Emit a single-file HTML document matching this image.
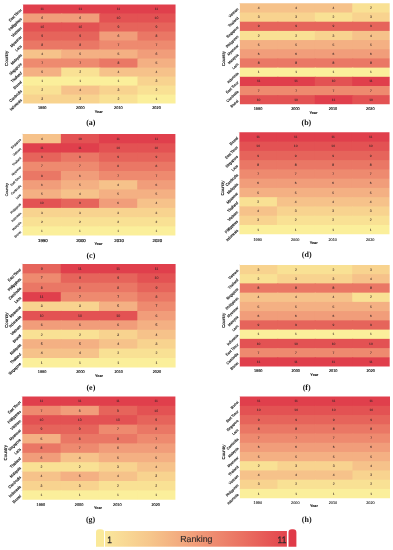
<!DOCTYPE html>
<html lang="en"><head><meta charset="utf-8"><title>Ranking heatmaps</title>
<style>
html,body{margin:0;padding:0;background:#fff;}
body{width:393px;height:550px;overflow:hidden;}
svg{display:block;}
text{font-family:"Liberation Sans","DejaVu Sans",sans-serif;text-rendering:geometricPrecision;}
.cap{font-family:"Liberation Serif","DejaVu Serif",serif;font-weight:bold;font-size:8px;fill:#111;text-anchor:middle;}
.yt{fill:#151515;text-anchor:end;stroke:#151515;}/*3.7*/
.xt{fill:#111;text-anchor:middle;stroke:#111;}
.ax{font-size:3.8px;fill:#111;text-anchor:middle;font-weight:bold;stroke:#111;stroke-width:0.08px;}
.cy{fill:#111;text-anchor:middle;stroke:#111;stroke-width:0.14px;}
.cv{/*3.7*/fill:#3a2828;text-anchor:middle;stroke:#3a2828;stroke-width:0.06px;}
.cb{font-size:8.8px;fill:#2e2a2a;}
.cbn{font-size:9.3px;stroke:#2e2a2a;stroke-width:0.25px;}
</style></head><body>
<svg width="393" height="550" viewBox="0 0 393 550">
<defs><linearGradient id="rk" x1="0" x2="1" y1="0" y2="0">
<stop offset="0" stop-color="#FAE79C"/><stop offset="0.25" stop-color="#F6C68B"/><stop offset="0.5" stop-color="#F19C79"/><stop offset="0.75" stop-color="#EA7262"/><stop offset="1" stop-color="#E3444D"/>
</linearGradient></defs>

<g id="panel-a">
<rect x="22.15" y="3.45" width="40.10" height="11.01" fill="#E03F4C"/>
<rect x="61.25" y="3.45" width="39.10" height="11.01" fill="#E03F4C"/>
<rect x="99.35" y="3.45" width="39.10" height="11.01" fill="#E03F4C"/>
<rect x="137.45" y="3.45" width="39.10" height="11.01" fill="#E03F4C"/>
<rect x="22.15" y="13.46" width="40.10" height="10.01" fill="#F19D7A"/>
<rect x="61.25" y="13.46" width="39.10" height="10.01" fill="#F19D7A"/>
<rect x="99.35" y="13.46" width="39.10" height="10.01" fill="#E35253"/>
<rect x="137.45" y="13.46" width="39.10" height="10.01" fill="#E35253"/>
<rect x="22.15" y="22.48" width="40.10" height="10.01" fill="#E35253"/>
<rect x="61.25" y="22.48" width="39.10" height="10.01" fill="#E35253"/>
<rect x="99.35" y="22.48" width="39.10" height="10.01" fill="#E6645B"/>
<rect x="137.45" y="22.48" width="39.10" height="10.01" fill="#E6645B"/>
<rect x="22.15" y="31.49" width="40.10" height="10.01" fill="#E6645B"/>
<rect x="61.25" y="31.49" width="39.10" height="10.01" fill="#E6645B"/>
<rect x="99.35" y="31.49" width="39.10" height="10.01" fill="#F19D7A"/>
<rect x="137.45" y="31.49" width="39.10" height="10.01" fill="#EA7765"/>
<rect x="22.15" y="40.50" width="40.10" height="10.01" fill="#EA7765"/>
<rect x="61.25" y="40.50" width="39.10" height="10.01" fill="#EA7765"/>
<rect x="99.35" y="40.50" width="39.10" height="10.01" fill="#EE8A6F"/>
<rect x="137.45" y="40.50" width="39.10" height="10.01" fill="#EE8A6F"/>
<rect x="22.15" y="49.52" width="40.10" height="10.01" fill="#F6C28A"/>
<rect x="61.25" y="49.52" width="39.10" height="10.01" fill="#F4B083"/>
<rect x="99.35" y="49.52" width="39.10" height="10.01" fill="#F4B083"/>
<rect x="137.45" y="49.52" width="39.10" height="10.01" fill="#F19D7A"/>
<rect x="22.15" y="58.53" width="40.10" height="10.01" fill="#EE8A6F"/>
<rect x="61.25" y="58.53" width="39.10" height="10.01" fill="#EE8A6F"/>
<rect x="99.35" y="58.53" width="39.10" height="10.01" fill="#EA7765"/>
<rect x="137.45" y="58.53" width="39.10" height="10.01" fill="#F4B083"/>
<rect x="22.15" y="67.55" width="40.10" height="10.01" fill="#F4B083"/>
<rect x="61.25" y="67.55" width="39.10" height="10.01" fill="#F9E194"/>
<rect x="99.35" y="67.55" width="39.10" height="10.01" fill="#F6C28A"/>
<rect x="137.45" y="67.55" width="39.10" height="10.01" fill="#F6C28A"/>
<rect x="22.15" y="76.56" width="40.10" height="10.01" fill="#FBEF9B"/>
<rect x="61.25" y="76.56" width="39.10" height="10.01" fill="#FBEF9B"/>
<rect x="99.35" y="76.56" width="39.10" height="10.01" fill="#FBEF9B"/>
<rect x="137.45" y="76.56" width="39.10" height="10.01" fill="#F8D38F"/>
<rect x="22.15" y="85.57" width="40.10" height="10.01" fill="#F9E194"/>
<rect x="61.25" y="85.57" width="39.10" height="10.01" fill="#F6C28A"/>
<rect x="99.35" y="85.57" width="39.10" height="10.01" fill="#F8D38F"/>
<rect x="137.45" y="85.57" width="39.10" height="10.01" fill="#F9E194"/>
<rect x="22.15" y="94.59" width="40.10" height="10.01" fill="#F8D38F"/>
<rect x="61.25" y="94.59" width="39.10" height="10.01" fill="#F8D38F"/>
<rect x="99.35" y="94.59" width="39.10" height="10.01" fill="#F9E194"/>
<rect x="137.45" y="94.59" width="39.10" height="10.01" fill="#FBEF9B"/>
<path fill="#fff" fill-rule="evenodd" d="M21.15 2.45H177.55V105.60H21.15Z M23.15 4.45H175.55V103.60H23.15Z"/>
<text class="cv" font-size="3.4" x="42.20" y="10.08">11</text>
<text class="cv" font-size="3.4" x="42.20" y="19.09">6</text>
<text class="cv" font-size="3.4" x="42.20" y="28.11">10</text>
<text class="cv" font-size="3.4" x="42.20" y="37.12">9</text>
<text class="cv" font-size="3.4" x="42.20" y="46.14">8</text>
<text class="cv" font-size="3.4" x="42.20" y="55.15">4</text>
<text class="cv" font-size="3.4" x="42.20" y="64.16">7</text>
<text class="cv" font-size="3.4" x="42.20" y="73.18">5</text>
<text class="cv" font-size="3.4" x="42.20" y="82.19">1</text>
<text class="cv" font-size="3.4" x="42.20" y="91.20">2</text>
<text class="cv" font-size="3.4" x="42.20" y="100.22">3</text>
<text class="cv" font-size="3.4" x="80.30" y="10.08">11</text>
<text class="cv" font-size="3.4" x="80.30" y="19.09">6</text>
<text class="cv" font-size="3.4" x="80.30" y="28.11">10</text>
<text class="cv" font-size="3.4" x="80.30" y="37.12">9</text>
<text class="cv" font-size="3.4" x="80.30" y="46.14">8</text>
<text class="cv" font-size="3.4" x="80.30" y="55.15">5</text>
<text class="cv" font-size="3.4" x="80.30" y="64.16">7</text>
<text class="cv" font-size="3.4" x="80.30" y="73.18">2</text>
<text class="cv" font-size="3.4" x="80.30" y="82.19">1</text>
<text class="cv" font-size="3.4" x="80.30" y="91.20">4</text>
<text class="cv" font-size="3.4" x="80.30" y="100.22">3</text>
<text class="cv" font-size="3.4" x="118.40" y="10.08">11</text>
<text class="cv" font-size="3.4" x="118.40" y="19.09">10</text>
<text class="cv" font-size="3.4" x="118.40" y="28.11">9</text>
<text class="cv" font-size="3.4" x="118.40" y="37.12">6</text>
<text class="cv" font-size="3.4" x="118.40" y="46.14">7</text>
<text class="cv" font-size="3.4" x="118.40" y="55.15">5</text>
<text class="cv" font-size="3.4" x="118.40" y="64.16">8</text>
<text class="cv" font-size="3.4" x="118.40" y="73.18">4</text>
<text class="cv" font-size="3.4" x="118.40" y="82.19">1</text>
<text class="cv" font-size="3.4" x="118.40" y="91.20">3</text>
<text class="cv" font-size="3.4" x="118.40" y="100.22">2</text>
<text class="cv" font-size="3.4" x="156.50" y="10.08">11</text>
<text class="cv" font-size="3.4" x="156.50" y="19.09">10</text>
<text class="cv" font-size="3.4" x="156.50" y="28.11">9</text>
<text class="cv" font-size="3.4" x="156.50" y="37.12">8</text>
<text class="cv" font-size="3.4" x="156.50" y="46.14">7</text>
<text class="cv" font-size="3.4" x="156.50" y="55.15">6</text>
<text class="cv" font-size="3.4" x="156.50" y="64.16">5</text>
<text class="cv" font-size="3.4" x="156.50" y="73.18">4</text>
<text class="cv" font-size="3.4" x="156.50" y="82.19">3</text>
<text class="cv" font-size="3.4" x="156.50" y="91.20">2</text>
<text class="cv" font-size="3.4" x="156.50" y="100.22">1</text>
<text class="yt" font-size="3.75" stroke-width="0.15" transform="translate(22.08,10.38) rotate(-44) scale(0.925,1)">East Timor</text>
<rect x="22.35" y="4.25" width="0.8" height="0.4" fill="#888" opacity="0.45"/>
<text class="yt" font-size="3.75" stroke-width="0.15" transform="translate(22.08,19.40) rotate(-44) scale(0.925,1)">Philippines</text>
<rect x="22.35" y="13.26" width="0.8" height="0.4" fill="#888" opacity="0.45"/>
<text class="yt" font-size="3.75" stroke-width="0.15" transform="translate(22.08,28.41) rotate(-44) scale(0.925,1)">Vietnam</text>
<rect x="22.35" y="22.28" width="0.8" height="0.4" fill="#888" opacity="0.45"/>
<text class="yt" font-size="3.75" stroke-width="0.15" transform="translate(22.08,37.42) rotate(-44) scale(0.925,1)">Myanmar</text>
<rect x="22.35" y="31.29" width="0.8" height="0.4" fill="#888" opacity="0.45"/>
<text class="yt" font-size="3.75" stroke-width="0.15" transform="translate(22.08,46.44) rotate(-44) scale(0.925,1)">Laos</text>
<rect x="22.35" y="40.30" width="0.8" height="0.4" fill="#888" opacity="0.45"/>
<text class="yt" font-size="3.75" stroke-width="0.15" transform="translate(22.08,55.45) rotate(-44) scale(0.925,1)">Malaysia</text>
<rect x="22.35" y="49.32" width="0.8" height="0.4" fill="#888" opacity="0.45"/>
<text class="yt" font-size="3.75" stroke-width="0.15" transform="translate(22.08,64.46) rotate(-44) scale(0.925,1)">Singapore</text>
<rect x="22.35" y="58.33" width="0.8" height="0.4" fill="#888" opacity="0.45"/>
<text class="yt" font-size="3.75" stroke-width="0.15" transform="translate(22.08,73.48) rotate(-44) scale(0.925,1)">Thailand</text>
<rect x="22.35" y="67.35" width="0.8" height="0.4" fill="#888" opacity="0.45"/>
<text class="yt" font-size="3.75" stroke-width="0.15" transform="translate(22.08,82.49) rotate(-44) scale(0.925,1)">Brunei</text>
<rect x="22.35" y="76.36" width="0.8" height="0.4" fill="#888" opacity="0.45"/>
<text class="yt" font-size="3.75" stroke-width="0.15" transform="translate(22.08,91.51) rotate(-44) scale(0.925,1)">Cambodia</text>
<rect x="22.35" y="85.37" width="0.8" height="0.4" fill="#888" opacity="0.45"/>
<text class="yt" font-size="3.75" stroke-width="0.15" transform="translate(22.08,100.52) rotate(-44) scale(0.925,1)">Indonesia</text>
<rect x="22.35" y="94.39" width="0.8" height="0.4" fill="#888" opacity="0.45"/>
<text class="xt" font-size="3.85" stroke-width="0.14" x="42.20" y="108.94">1990</text>
<text class="xt" font-size="3.85" stroke-width="0.14" x="80.30" y="108.94">2000</text>
<text class="xt" font-size="3.85" stroke-width="0.14" x="118.40" y="108.94">2010</text>
<text class="xt" font-size="3.85" stroke-width="0.14" x="156.50" y="108.94">2020</text>
<text class="ax" x="98.75" y="112.50">Year</text>
<text class="cy" font-size="4.35" transform="translate(8.10,58.40) rotate(-90)">Country</text>
<text class="cap" x="90.8" y="125.40">(a)</text>
</g>
<g id="panel-b">
<rect x="238.90" y="2.35" width="39.45" height="11.18" fill="#F6C28A"/>
<rect x="277.35" y="2.35" width="38.45" height="11.18" fill="#F6C28A"/>
<rect x="314.80" y="2.35" width="38.45" height="11.18" fill="#F6C28A"/>
<rect x="352.25" y="2.35" width="38.45" height="11.18" fill="#F9E194"/>
<rect x="238.90" y="12.53" width="39.45" height="10.18" fill="#F8D38F"/>
<rect x="277.35" y="12.53" width="38.45" height="10.18" fill="#F8D38F"/>
<rect x="314.80" y="12.53" width="38.45" height="10.18" fill="#F9E194"/>
<rect x="352.25" y="12.53" width="38.45" height="10.18" fill="#F8D38F"/>
<rect x="238.90" y="21.71" width="39.45" height="10.18" fill="#E6645B"/>
<rect x="277.35" y="21.71" width="38.45" height="10.18" fill="#E6645B"/>
<rect x="314.80" y="21.71" width="38.45" height="10.18" fill="#E6645B"/>
<rect x="352.25" y="21.71" width="38.45" height="10.18" fill="#E6645B"/>
<rect x="238.90" y="30.90" width="39.45" height="10.18" fill="#F9E194"/>
<rect x="277.35" y="30.90" width="38.45" height="10.18" fill="#F9E194"/>
<rect x="314.80" y="30.90" width="38.45" height="10.18" fill="#F8D38F"/>
<rect x="352.25" y="30.90" width="38.45" height="10.18" fill="#F6C28A"/>
<rect x="238.90" y="40.08" width="39.45" height="10.18" fill="#F4B083"/>
<rect x="277.35" y="40.08" width="38.45" height="10.18" fill="#F4B083"/>
<rect x="314.80" y="40.08" width="38.45" height="10.18" fill="#F4B083"/>
<rect x="352.25" y="40.08" width="38.45" height="10.18" fill="#F4B083"/>
<rect x="238.90" y="49.26" width="39.45" height="10.18" fill="#F19D7A"/>
<rect x="277.35" y="49.26" width="38.45" height="10.18" fill="#F19D7A"/>
<rect x="314.80" y="49.26" width="38.45" height="10.18" fill="#F19D7A"/>
<rect x="352.25" y="49.26" width="38.45" height="10.18" fill="#F19D7A"/>
<rect x="238.90" y="58.44" width="39.45" height="10.18" fill="#EA7765"/>
<rect x="277.35" y="58.44" width="38.45" height="10.18" fill="#EA7765"/>
<rect x="314.80" y="58.44" width="38.45" height="10.18" fill="#EA7765"/>
<rect x="352.25" y="58.44" width="38.45" height="10.18" fill="#EA7765"/>
<rect x="238.90" y="67.62" width="39.45" height="10.18" fill="#FBEF9B"/>
<rect x="277.35" y="67.62" width="38.45" height="10.18" fill="#FBEF9B"/>
<rect x="314.80" y="67.62" width="38.45" height="10.18" fill="#FBEF9B"/>
<rect x="352.25" y="67.62" width="38.45" height="10.18" fill="#FBEF9B"/>
<rect x="238.90" y="76.80" width="39.45" height="10.18" fill="#E03F4C"/>
<rect x="277.35" y="76.80" width="38.45" height="10.18" fill="#E03F4C"/>
<rect x="314.80" y="76.80" width="38.45" height="10.18" fill="#E35253"/>
<rect x="352.25" y="76.80" width="38.45" height="10.18" fill="#E03F4C"/>
<rect x="238.90" y="85.99" width="39.45" height="10.18" fill="#EE8A6F"/>
<rect x="277.35" y="85.99" width="38.45" height="10.18" fill="#EE8A6F"/>
<rect x="314.80" y="85.99" width="38.45" height="10.18" fill="#EE8A6F"/>
<rect x="352.25" y="85.99" width="38.45" height="10.18" fill="#EE8A6F"/>
<rect x="238.90" y="95.17" width="39.45" height="10.18" fill="#E35253"/>
<rect x="277.35" y="95.17" width="38.45" height="10.18" fill="#E35253"/>
<rect x="314.80" y="95.17" width="38.45" height="10.18" fill="#E03F4C"/>
<rect x="352.25" y="95.17" width="38.45" height="10.18" fill="#E35253"/>
<path fill="#fff" fill-rule="evenodd" d="M237.90 1.35H391.70V106.35H237.90Z M239.90 3.35H389.70V104.35H239.90Z"/>
<text class="cv" font-size="3.3" x="258.62" y="9.03">4</text>
<text class="cv" font-size="3.3" x="258.62" y="18.21">3</text>
<text class="cv" font-size="3.3" x="258.62" y="27.39">9</text>
<text class="cv" font-size="3.3" x="258.62" y="36.57">2</text>
<text class="cv" font-size="3.3" x="258.62" y="45.76">5</text>
<text class="cv" font-size="3.3" x="258.62" y="54.94">6</text>
<text class="cv" font-size="3.3" x="258.62" y="64.12">8</text>
<text class="cv" font-size="3.3" x="258.62" y="73.30">1</text>
<text class="cv" font-size="3.3" x="258.62" y="82.48">11</text>
<text class="cv" font-size="3.3" x="258.62" y="91.67">7</text>
<text class="cv" font-size="3.3" x="258.62" y="100.85">10</text>
<text class="cv" font-size="3.3" x="296.07" y="9.03">4</text>
<text class="cv" font-size="3.3" x="296.07" y="18.21">3</text>
<text class="cv" font-size="3.3" x="296.07" y="27.39">9</text>
<text class="cv" font-size="3.3" x="296.07" y="36.57">2</text>
<text class="cv" font-size="3.3" x="296.07" y="45.76">5</text>
<text class="cv" font-size="3.3" x="296.07" y="54.94">6</text>
<text class="cv" font-size="3.3" x="296.07" y="64.12">8</text>
<text class="cv" font-size="3.3" x="296.07" y="73.30">1</text>
<text class="cv" font-size="3.3" x="296.07" y="82.48">11</text>
<text class="cv" font-size="3.3" x="296.07" y="91.67">7</text>
<text class="cv" font-size="3.3" x="296.07" y="100.85">10</text>
<text class="cv" font-size="3.3" x="333.52" y="9.03">4</text>
<text class="cv" font-size="3.3" x="333.52" y="18.21">2</text>
<text class="cv" font-size="3.3" x="333.52" y="27.39">9</text>
<text class="cv" font-size="3.3" x="333.52" y="36.57">3</text>
<text class="cv" font-size="3.3" x="333.52" y="45.76">5</text>
<text class="cv" font-size="3.3" x="333.52" y="54.94">6</text>
<text class="cv" font-size="3.3" x="333.52" y="64.12">8</text>
<text class="cv" font-size="3.3" x="333.52" y="73.30">1</text>
<text class="cv" font-size="3.3" x="333.52" y="82.48">10</text>
<text class="cv" font-size="3.3" x="333.52" y="91.67">7</text>
<text class="cv" font-size="3.3" x="333.52" y="100.85">11</text>
<text class="cv" font-size="3.3" x="370.98" y="9.03">2</text>
<text class="cv" font-size="3.3" x="370.98" y="18.21">3</text>
<text class="cv" font-size="3.3" x="370.98" y="27.39">9</text>
<text class="cv" font-size="3.3" x="370.98" y="36.57">4</text>
<text class="cv" font-size="3.3" x="370.98" y="45.76">5</text>
<text class="cv" font-size="3.3" x="370.98" y="54.94">6</text>
<text class="cv" font-size="3.3" x="370.98" y="64.12">8</text>
<text class="cv" font-size="3.3" x="370.98" y="73.30">1</text>
<text class="cv" font-size="3.3" x="370.98" y="82.48">11</text>
<text class="cv" font-size="3.3" x="370.98" y="91.67">7</text>
<text class="cv" font-size="3.3" x="370.98" y="100.85">10</text>
<text class="yt" font-size="3.6" stroke-width="0.15" transform="translate(238.77,9.31) rotate(-44) scale(0.925,1)">Vietnam</text>
<rect x="239.10" y="3.15" width="0.8" height="0.4" fill="#888" opacity="0.45"/>
<text class="yt" font-size="3.6" stroke-width="0.15" transform="translate(238.77,18.50) rotate(-44) scale(0.925,1)">Thailand</text>
<rect x="239.10" y="12.33" width="0.8" height="0.4" fill="#888" opacity="0.45"/>
<text class="yt" font-size="3.6" stroke-width="0.15" transform="translate(238.77,27.68) rotate(-44) scale(0.925,1)">Singapore</text>
<rect x="239.10" y="21.51" width="0.8" height="0.4" fill="#888" opacity="0.45"/>
<text class="yt" font-size="3.6" stroke-width="0.15" transform="translate(238.77,36.86) rotate(-44) scale(0.925,1)">Philippines</text>
<rect x="239.10" y="30.70" width="0.8" height="0.4" fill="#888" opacity="0.45"/>
<text class="yt" font-size="3.6" stroke-width="0.15" transform="translate(238.77,46.04) rotate(-44) scale(0.925,1)">Myanmar</text>
<rect x="239.10" y="39.88" width="0.8" height="0.4" fill="#888" opacity="0.45"/>
<text class="yt" font-size="3.6" stroke-width="0.15" transform="translate(238.77,55.22) rotate(-44) scale(0.925,1)">Malaysia</text>
<rect x="239.10" y="49.06" width="0.8" height="0.4" fill="#888" opacity="0.45"/>
<text class="yt" font-size="3.6" stroke-width="0.15" transform="translate(238.77,64.40) rotate(-44) scale(0.925,1)">Laos</text>
<rect x="239.10" y="58.24" width="0.8" height="0.4" fill="#888" opacity="0.45"/>
<text class="yt" font-size="3.6" stroke-width="0.15" transform="translate(238.77,73.59) rotate(-44) scale(0.925,1)">Indonesia</text>
<rect x="239.10" y="67.42" width="0.8" height="0.4" fill="#888" opacity="0.45"/>
<text class="yt" font-size="3.6" stroke-width="0.15" transform="translate(238.77,82.77) rotate(-44) scale(0.925,1)">East Timor</text>
<rect x="239.10" y="76.60" width="0.8" height="0.4" fill="#888" opacity="0.45"/>
<text class="yt" font-size="3.6" stroke-width="0.15" transform="translate(238.77,91.95) rotate(-44) scale(0.925,1)">Cambodia</text>
<rect x="239.10" y="85.79" width="0.8" height="0.4" fill="#888" opacity="0.45"/>
<text class="yt" font-size="3.6" stroke-width="0.15" transform="translate(238.77,101.13) rotate(-44) scale(0.925,1)">Brunei</text>
<rect x="239.10" y="94.97" width="0.8" height="0.4" fill="#888" opacity="0.45"/>
<text class="xt" font-size="3.85" stroke-width="0.14" x="258.02" y="109.74">1990</text>
<text class="xt" font-size="3.85" stroke-width="0.14" x="295.47" y="109.74">2000</text>
<text class="xt" font-size="3.85" stroke-width="0.14" x="332.92" y="109.74">2010</text>
<text class="xt" font-size="3.85" stroke-width="0.14" x="370.38" y="109.74">2020</text>
<text class="ax" x="313.40" y="113.90">Year</text>
<text class="cy" font-size="4.25" transform="translate(225.40,58.50) rotate(-90)">Country</text>
<text class="cap" x="306.4" y="125.20">(b)</text>
</g>
<g id="panel-c">
<rect x="21.70" y="133.05" width="40.18" height="11.23" fill="#F6C28A"/>
<rect x="60.88" y="133.05" width="39.18" height="11.23" fill="#E35253"/>
<rect x="99.05" y="133.05" width="39.18" height="11.23" fill="#E03F4C"/>
<rect x="137.22" y="133.05" width="39.18" height="11.23" fill="#E03F4C"/>
<rect x="21.70" y="143.28" width="40.18" height="10.23" fill="#E03F4C"/>
<rect x="60.88" y="143.28" width="39.18" height="10.23" fill="#E03F4C"/>
<rect x="99.05" y="143.28" width="39.18" height="10.23" fill="#E35253"/>
<rect x="137.22" y="143.28" width="39.18" height="10.23" fill="#E35253"/>
<rect x="21.70" y="152.51" width="40.18" height="10.23" fill="#E6645B"/>
<rect x="60.88" y="152.51" width="39.18" height="10.23" fill="#EA7765"/>
<rect x="99.05" y="152.51" width="39.18" height="10.23" fill="#E6645B"/>
<rect x="137.22" y="152.51" width="39.18" height="10.23" fill="#E6645B"/>
<rect x="21.70" y="161.75" width="40.18" height="10.23" fill="#EE8A6F"/>
<rect x="60.88" y="161.75" width="39.18" height="10.23" fill="#EE8A6F"/>
<rect x="99.05" y="161.75" width="39.18" height="10.23" fill="#EA7765"/>
<rect x="137.22" y="161.75" width="39.18" height="10.23" fill="#EA7765"/>
<rect x="21.70" y="170.98" width="40.18" height="10.23" fill="#EA7765"/>
<rect x="60.88" y="170.98" width="39.18" height="10.23" fill="#F19D7A"/>
<rect x="99.05" y="170.98" width="39.18" height="10.23" fill="#EE8A6F"/>
<rect x="137.22" y="170.98" width="39.18" height="10.23" fill="#EE8A6F"/>
<rect x="21.70" y="180.21" width="40.18" height="10.23" fill="#F19D7A"/>
<rect x="60.88" y="180.21" width="39.18" height="10.23" fill="#F4B083"/>
<rect x="99.05" y="180.21" width="39.18" height="10.23" fill="#F6C28A"/>
<rect x="137.22" y="180.21" width="39.18" height="10.23" fill="#F19D7A"/>
<rect x="21.70" y="189.44" width="40.18" height="10.23" fill="#F4B083"/>
<rect x="60.88" y="189.44" width="39.18" height="10.23" fill="#F6C28A"/>
<rect x="99.05" y="189.44" width="39.18" height="10.23" fill="#F4B083"/>
<rect x="137.22" y="189.44" width="39.18" height="10.23" fill="#F4B083"/>
<rect x="21.70" y="198.67" width="40.18" height="10.23" fill="#E35253"/>
<rect x="60.88" y="198.67" width="39.18" height="10.23" fill="#E6645B"/>
<rect x="99.05" y="198.67" width="39.18" height="10.23" fill="#F19D7A"/>
<rect x="137.22" y="198.67" width="39.18" height="10.23" fill="#F6C28A"/>
<rect x="21.70" y="207.90" width="40.18" height="10.23" fill="#F8D38F"/>
<rect x="60.88" y="207.90" width="39.18" height="10.23" fill="#F8D38F"/>
<rect x="99.05" y="207.90" width="39.18" height="10.23" fill="#F8D38F"/>
<rect x="137.22" y="207.90" width="39.18" height="10.23" fill="#F8D38F"/>
<rect x="21.70" y="217.14" width="40.18" height="10.23" fill="#F9E194"/>
<rect x="60.88" y="217.14" width="39.18" height="10.23" fill="#F9E194"/>
<rect x="99.05" y="217.14" width="39.18" height="10.23" fill="#F9E194"/>
<rect x="137.22" y="217.14" width="39.18" height="10.23" fill="#F9E194"/>
<rect x="21.70" y="226.37" width="40.18" height="10.23" fill="#FBEF9B"/>
<rect x="60.88" y="226.37" width="39.18" height="10.23" fill="#FBEF9B"/>
<rect x="99.05" y="226.37" width="39.18" height="10.23" fill="#FBEF9B"/>
<rect x="137.22" y="226.37" width="39.18" height="10.23" fill="#FBEF9B"/>
<path fill="#fff" fill-rule="evenodd" d="M20.70 132.05H177.40V237.60H20.70Z M22.70 134.05H175.40V235.60H22.70Z"/>
<text class="cv" font-size="3.2" x="41.79" y="139.72">4</text>
<text class="cv" font-size="3.2" x="41.79" y="148.95">11</text>
<text class="cv" font-size="3.2" x="41.79" y="158.18">9</text>
<text class="cv" font-size="3.2" x="41.79" y="167.41">7</text>
<text class="cv" font-size="3.2" x="41.79" y="176.65">8</text>
<text class="cv" font-size="3.2" x="41.79" y="185.88">6</text>
<text class="cv" font-size="3.2" x="41.79" y="195.11">5</text>
<text class="cv" font-size="3.2" x="41.79" y="204.34">10</text>
<text class="cv" font-size="3.2" x="41.79" y="213.57">3</text>
<text class="cv" font-size="3.2" x="41.79" y="222.80">2</text>
<text class="cv" font-size="3.2" x="41.79" y="232.04">1</text>
<text class="cv" font-size="3.2" x="79.96" y="139.72">10</text>
<text class="cv" font-size="3.2" x="79.96" y="148.95">11</text>
<text class="cv" font-size="3.2" x="79.96" y="158.18">8</text>
<text class="cv" font-size="3.2" x="79.96" y="167.41">7</text>
<text class="cv" font-size="3.2" x="79.96" y="176.65">6</text>
<text class="cv" font-size="3.2" x="79.96" y="185.88">5</text>
<text class="cv" font-size="3.2" x="79.96" y="195.11">4</text>
<text class="cv" font-size="3.2" x="79.96" y="204.34">9</text>
<text class="cv" font-size="3.2" x="79.96" y="213.57">3</text>
<text class="cv" font-size="3.2" x="79.96" y="222.80">2</text>
<text class="cv" font-size="3.2" x="79.96" y="232.04">1</text>
<text class="cv" font-size="3.2" x="118.14" y="139.72">11</text>
<text class="cv" font-size="3.2" x="118.14" y="148.95">10</text>
<text class="cv" font-size="3.2" x="118.14" y="158.18">9</text>
<text class="cv" font-size="3.2" x="118.14" y="167.41">8</text>
<text class="cv" font-size="3.2" x="118.14" y="176.65">7</text>
<text class="cv" font-size="3.2" x="118.14" y="185.88">4</text>
<text class="cv" font-size="3.2" x="118.14" y="195.11">5</text>
<text class="cv" font-size="3.2" x="118.14" y="204.34">6</text>
<text class="cv" font-size="3.2" x="118.14" y="213.57">3</text>
<text class="cv" font-size="3.2" x="118.14" y="222.80">2</text>
<text class="cv" font-size="3.2" x="118.14" y="232.04">1</text>
<text class="cv" font-size="3.2" x="156.31" y="139.72">11</text>
<text class="cv" font-size="3.2" x="156.31" y="148.95">10</text>
<text class="cv" font-size="3.2" x="156.31" y="158.18">9</text>
<text class="cv" font-size="3.2" x="156.31" y="167.41">8</text>
<text class="cv" font-size="3.2" x="156.31" y="176.65">7</text>
<text class="cv" font-size="3.2" x="156.31" y="185.88">6</text>
<text class="cv" font-size="3.2" x="156.31" y="195.11">5</text>
<text class="cv" font-size="3.2" x="156.31" y="204.34">4</text>
<text class="cv" font-size="3.2" x="156.31" y="213.57">3</text>
<text class="cv" font-size="3.2" x="156.31" y="222.80">2</text>
<text class="cv" font-size="3.2" x="156.31" y="232.04">1</text>
<text class="yt" font-size="3.1" stroke-width="0.1" transform="translate(21.40,139.86) rotate(-44) scale(0.925,1)">Singapore</text>
<rect x="21.90" y="133.85" width="0.8" height="0.4" fill="#888" opacity="0.45"/>
<text class="yt" font-size="3.1" stroke-width="0.1" transform="translate(21.40,149.09) rotate(-44) scale(0.925,1)">Vietnam</text>
<rect x="21.90" y="143.08" width="0.8" height="0.4" fill="#888" opacity="0.45"/>
<text class="yt" font-size="3.1" stroke-width="0.1" transform="translate(21.40,158.33) rotate(-44) scale(0.925,1)">Thailand</text>
<rect x="21.90" y="152.31" width="0.8" height="0.4" fill="#888" opacity="0.45"/>
<text class="yt" font-size="3.1" stroke-width="0.1" transform="translate(21.40,167.56) rotate(-44) scale(0.925,1)">Myanmar</text>
<rect x="21.90" y="161.55" width="0.8" height="0.4" fill="#888" opacity="0.45"/>
<text class="yt" font-size="3.1" stroke-width="0.1" transform="translate(21.40,176.79) rotate(-44) scale(0.925,1)">East Timor</text>
<rect x="21.90" y="170.78" width="0.8" height="0.4" fill="#888" opacity="0.45"/>
<text class="yt" font-size="3.1" stroke-width="0.1" transform="translate(21.40,186.02) rotate(-44) scale(0.925,1)">Cambodia</text>
<rect x="21.90" y="180.01" width="0.8" height="0.4" fill="#888" opacity="0.45"/>
<text class="yt" font-size="3.1" stroke-width="0.1" transform="translate(21.40,195.25) rotate(-44) scale(0.925,1)">Laos</text>
<rect x="21.90" y="189.24" width="0.8" height="0.4" fill="#888" opacity="0.45"/>
<text class="yt" font-size="3.1" stroke-width="0.1" transform="translate(21.40,204.48) rotate(-44) scale(0.925,1)">Philippines</text>
<rect x="21.90" y="198.47" width="0.8" height="0.4" fill="#888" opacity="0.45"/>
<text class="yt" font-size="3.1" stroke-width="0.1" transform="translate(21.40,213.72) rotate(-44) scale(0.925,1)">Indonesia</text>
<rect x="21.90" y="207.70" width="0.8" height="0.4" fill="#888" opacity="0.45"/>
<text class="yt" font-size="3.1" stroke-width="0.1" transform="translate(21.40,222.95) rotate(-44) scale(0.925,1)">Malaysia</text>
<rect x="21.90" y="216.94" width="0.8" height="0.4" fill="#888" opacity="0.45"/>
<text class="yt" font-size="3.1" stroke-width="0.1" transform="translate(21.40,232.18) rotate(-44) scale(0.925,1)">Brunei</text>
<rect x="21.90" y="226.17" width="0.8" height="0.4" fill="#888" opacity="0.45"/>
<text class="xt" font-size="4.3" stroke-width="0.18" x="42.79" y="241.75">1990</text>
<text class="xt" font-size="4.3" stroke-width="0.18" x="80.96" y="241.75">2000</text>
<text class="xt" font-size="4.3" stroke-width="0.18" x="119.14" y="241.75">2010</text>
<text class="xt" font-size="4.3" stroke-width="0.18" x="157.31" y="241.75">2020</text>
<text class="ax" x="98.45" y="244.95">Year</text>
<text class="cy" font-size="3.75" transform="translate(8.10,189.70) rotate(-90)">Country</text>
<text class="cap" x="90.9" y="257.60">(c)</text>
</g>
<g id="panel-d">
<rect x="238.40" y="131.35" width="39.52" height="11.26" fill="#E03F4C"/>
<rect x="276.93" y="131.35" width="38.52" height="11.26" fill="#E03F4C"/>
<rect x="314.45" y="131.35" width="38.52" height="11.26" fill="#E03F4C"/>
<rect x="351.98" y="131.35" width="38.52" height="11.26" fill="#E03F4C"/>
<rect x="238.40" y="141.61" width="39.52" height="10.26" fill="#E35253"/>
<rect x="276.93" y="141.61" width="38.52" height="10.26" fill="#E35253"/>
<rect x="314.45" y="141.61" width="38.52" height="10.26" fill="#E35253"/>
<rect x="351.98" y="141.61" width="38.52" height="10.26" fill="#E35253"/>
<rect x="238.40" y="150.87" width="39.52" height="10.26" fill="#E6645B"/>
<rect x="276.93" y="150.87" width="38.52" height="10.26" fill="#E6645B"/>
<rect x="314.45" y="150.87" width="38.52" height="10.26" fill="#E6645B"/>
<rect x="351.98" y="150.87" width="38.52" height="10.26" fill="#E6645B"/>
<rect x="238.40" y="160.13" width="39.52" height="10.26" fill="#EA7765"/>
<rect x="276.93" y="160.13" width="38.52" height="10.26" fill="#EA7765"/>
<rect x="314.45" y="160.13" width="38.52" height="10.26" fill="#EA7765"/>
<rect x="351.98" y="160.13" width="38.52" height="10.26" fill="#EA7765"/>
<rect x="238.40" y="169.39" width="39.52" height="10.26" fill="#EE8A6F"/>
<rect x="276.93" y="169.39" width="38.52" height="10.26" fill="#EE8A6F"/>
<rect x="314.45" y="169.39" width="38.52" height="10.26" fill="#EE8A6F"/>
<rect x="351.98" y="169.39" width="38.52" height="10.26" fill="#EE8A6F"/>
<rect x="238.40" y="178.65" width="39.52" height="10.26" fill="#F19D7A"/>
<rect x="276.93" y="178.65" width="38.52" height="10.26" fill="#F19D7A"/>
<rect x="314.45" y="178.65" width="38.52" height="10.26" fill="#F19D7A"/>
<rect x="351.98" y="178.65" width="38.52" height="10.26" fill="#F19D7A"/>
<rect x="238.40" y="187.90" width="39.52" height="10.26" fill="#F4B083"/>
<rect x="276.93" y="187.90" width="38.52" height="10.26" fill="#F4B083"/>
<rect x="314.45" y="187.90" width="38.52" height="10.26" fill="#F4B083"/>
<rect x="351.98" y="187.90" width="38.52" height="10.26" fill="#F4B083"/>
<rect x="238.40" y="197.16" width="39.52" height="10.26" fill="#F9E194"/>
<rect x="276.93" y="197.16" width="38.52" height="10.26" fill="#F6C28A"/>
<rect x="314.45" y="197.16" width="38.52" height="10.26" fill="#F6C28A"/>
<rect x="351.98" y="197.16" width="38.52" height="10.26" fill="#F6C28A"/>
<rect x="238.40" y="206.42" width="39.52" height="10.26" fill="#F6C28A"/>
<rect x="276.93" y="206.42" width="38.52" height="10.26" fill="#F8D38F"/>
<rect x="314.45" y="206.42" width="38.52" height="10.26" fill="#F8D38F"/>
<rect x="351.98" y="206.42" width="38.52" height="10.26" fill="#F8D38F"/>
<rect x="238.40" y="215.68" width="39.52" height="10.26" fill="#F8D38F"/>
<rect x="276.93" y="215.68" width="38.52" height="10.26" fill="#F9E194"/>
<rect x="314.45" y="215.68" width="38.52" height="10.26" fill="#F9E194"/>
<rect x="351.98" y="215.68" width="38.52" height="10.26" fill="#F9E194"/>
<rect x="238.40" y="224.94" width="39.52" height="10.26" fill="#FBEF9B"/>
<rect x="276.93" y="224.94" width="38.52" height="10.26" fill="#FBEF9B"/>
<rect x="314.45" y="224.94" width="38.52" height="10.26" fill="#FBEF9B"/>
<rect x="351.98" y="224.94" width="38.52" height="10.26" fill="#FBEF9B"/>
<path fill="#fff" fill-rule="evenodd" d="M237.40 130.35H391.50V236.20H237.40Z M239.40 132.35H389.50V234.20H239.40Z"/>
<text class="cv" font-size="3.3" x="258.16" y="138.07">11</text>
<text class="cv" font-size="3.3" x="258.16" y="147.33">10</text>
<text class="cv" font-size="3.3" x="258.16" y="156.59">9</text>
<text class="cv" font-size="3.3" x="258.16" y="165.84">8</text>
<text class="cv" font-size="3.3" x="258.16" y="175.10">7</text>
<text class="cv" font-size="3.3" x="258.16" y="184.36">6</text>
<text class="cv" font-size="3.3" x="258.16" y="193.62">5</text>
<text class="cv" font-size="3.3" x="258.16" y="202.88">2</text>
<text class="cv" font-size="3.3" x="258.16" y="212.14">4</text>
<text class="cv" font-size="3.3" x="258.16" y="221.40">3</text>
<text class="cv" font-size="3.3" x="258.16" y="230.66">1</text>
<text class="cv" font-size="3.3" x="295.69" y="138.07">11</text>
<text class="cv" font-size="3.3" x="295.69" y="147.33">10</text>
<text class="cv" font-size="3.3" x="295.69" y="156.59">9</text>
<text class="cv" font-size="3.3" x="295.69" y="165.84">8</text>
<text class="cv" font-size="3.3" x="295.69" y="175.10">7</text>
<text class="cv" font-size="3.3" x="295.69" y="184.36">6</text>
<text class="cv" font-size="3.3" x="295.69" y="193.62">5</text>
<text class="cv" font-size="3.3" x="295.69" y="202.88">4</text>
<text class="cv" font-size="3.3" x="295.69" y="212.14">3</text>
<text class="cv" font-size="3.3" x="295.69" y="221.40">2</text>
<text class="cv" font-size="3.3" x="295.69" y="230.66">1</text>
<text class="cv" font-size="3.3" x="333.21" y="138.07">11</text>
<text class="cv" font-size="3.3" x="333.21" y="147.33">10</text>
<text class="cv" font-size="3.3" x="333.21" y="156.59">9</text>
<text class="cv" font-size="3.3" x="333.21" y="165.84">8</text>
<text class="cv" font-size="3.3" x="333.21" y="175.10">7</text>
<text class="cv" font-size="3.3" x="333.21" y="184.36">6</text>
<text class="cv" font-size="3.3" x="333.21" y="193.62">5</text>
<text class="cv" font-size="3.3" x="333.21" y="202.88">4</text>
<text class="cv" font-size="3.3" x="333.21" y="212.14">3</text>
<text class="cv" font-size="3.3" x="333.21" y="221.40">2</text>
<text class="cv" font-size="3.3" x="333.21" y="230.66">1</text>
<text class="cv" font-size="3.3" x="370.74" y="138.07">11</text>
<text class="cv" font-size="3.3" x="370.74" y="147.33">10</text>
<text class="cv" font-size="3.3" x="370.74" y="156.59">9</text>
<text class="cv" font-size="3.3" x="370.74" y="165.84">8</text>
<text class="cv" font-size="3.3" x="370.74" y="175.10">7</text>
<text class="cv" font-size="3.3" x="370.74" y="184.36">6</text>
<text class="cv" font-size="3.3" x="370.74" y="193.62">5</text>
<text class="cv" font-size="3.3" x="370.74" y="202.88">4</text>
<text class="cv" font-size="3.3" x="370.74" y="212.14">3</text>
<text class="cv" font-size="3.3" x="370.74" y="221.40">2</text>
<text class="cv" font-size="3.3" x="370.74" y="230.66">1</text>
<text class="yt" font-size="3.75" stroke-width="0.15" transform="translate(238.33,138.41) rotate(-44) scale(0.925,1)">Brunei</text>
<rect x="238.60" y="132.15" width="0.8" height="0.4" fill="#888" opacity="0.45"/>
<text class="yt" font-size="3.75" stroke-width="0.15" transform="translate(238.33,147.66) rotate(-44) scale(0.925,1)">East Timor</text>
<rect x="238.60" y="141.41" width="0.8" height="0.4" fill="#888" opacity="0.45"/>
<text class="yt" font-size="3.75" stroke-width="0.15" transform="translate(238.33,156.92) rotate(-44) scale(0.925,1)">Singapore</text>
<rect x="238.60" y="150.67" width="0.8" height="0.4" fill="#888" opacity="0.45"/>
<text class="yt" font-size="3.75" stroke-width="0.15" transform="translate(238.33,166.18) rotate(-44) scale(0.925,1)">Laos</text>
<rect x="238.60" y="159.93" width="0.8" height="0.4" fill="#888" opacity="0.45"/>
<text class="yt" font-size="3.75" stroke-width="0.15" transform="translate(238.33,175.44) rotate(-44) scale(0.925,1)">Cambodia</text>
<rect x="238.60" y="169.19" width="0.8" height="0.4" fill="#888" opacity="0.45"/>
<text class="yt" font-size="3.75" stroke-width="0.15" transform="translate(238.33,184.70) rotate(-44) scale(0.925,1)">Malaysia</text>
<rect x="238.60" y="178.45" width="0.8" height="0.4" fill="#888" opacity="0.45"/>
<text class="yt" font-size="3.75" stroke-width="0.15" transform="translate(238.33,193.96) rotate(-44) scale(0.925,1)">Myanmar</text>
<rect x="238.60" y="187.70" width="0.8" height="0.4" fill="#888" opacity="0.45"/>
<text class="yt" font-size="3.75" stroke-width="0.15" transform="translate(238.33,203.22) rotate(-44) scale(0.925,1)">Thailand</text>
<rect x="238.60" y="196.96" width="0.8" height="0.4" fill="#888" opacity="0.45"/>
<text class="yt" font-size="3.75" stroke-width="0.15" transform="translate(238.33,212.48) rotate(-44) scale(0.925,1)">Vietnam</text>
<rect x="238.60" y="206.22" width="0.8" height="0.4" fill="#888" opacity="0.45"/>
<text class="yt" font-size="3.75" stroke-width="0.15" transform="translate(238.33,221.74) rotate(-44) scale(0.925,1)">Philippines</text>
<rect x="238.60" y="215.48" width="0.8" height="0.4" fill="#888" opacity="0.45"/>
<text class="yt" font-size="3.75" stroke-width="0.15" transform="translate(238.33,231.00) rotate(-44) scale(0.925,1)">Indonesia</text>
<rect x="238.60" y="224.74" width="0.8" height="0.4" fill="#888" opacity="0.45"/>
<text class="xt" font-size="3.85" stroke-width="0.08" x="257.66" y="240.79">1990</text>
<text class="xt" font-size="3.85" stroke-width="0.08" x="295.19" y="240.79">2000</text>
<text class="xt" font-size="3.85" stroke-width="0.08" x="332.71" y="240.79">2010</text>
<text class="xt" font-size="3.85" stroke-width="0.08" x="370.24" y="240.79">2020</text>
<text class="ax" x="313.65" y="243.65">Year</text>
<text class="cy" font-size="4.25" transform="translate(224.40,188.10) rotate(-90)">Country</text>
<text class="cap" x="306.7" y="257.00">(d)</text>
</g>
<g id="panel-e">
<rect x="21.50" y="262.90" width="40.27" height="11.41" fill="#E6645B"/>
<rect x="60.77" y="262.90" width="39.27" height="11.41" fill="#E03F4C"/>
<rect x="99.05" y="262.90" width="39.27" height="11.41" fill="#E03F4C"/>
<rect x="137.32" y="262.90" width="39.27" height="11.41" fill="#E03F4C"/>
<rect x="21.50" y="273.31" width="40.27" height="10.41" fill="#EE8A6F"/>
<rect x="60.77" y="273.31" width="39.27" height="10.41" fill="#E6645B"/>
<rect x="99.05" y="273.31" width="39.27" height="10.41" fill="#E6645B"/>
<rect x="137.32" y="273.31" width="39.27" height="10.41" fill="#E35253"/>
<rect x="21.50" y="282.72" width="40.27" height="10.41" fill="#EA7765"/>
<rect x="60.77" y="282.72" width="39.27" height="10.41" fill="#EA7765"/>
<rect x="99.05" y="282.72" width="39.27" height="10.41" fill="#EA7765"/>
<rect x="137.32" y="282.72" width="39.27" height="10.41" fill="#E6645B"/>
<rect x="21.50" y="292.13" width="40.27" height="10.41" fill="#E03F4C"/>
<rect x="60.77" y="292.13" width="39.27" height="10.41" fill="#EE8A6F"/>
<rect x="99.05" y="292.13" width="39.27" height="10.41" fill="#EE8A6F"/>
<rect x="137.32" y="292.13" width="39.27" height="10.41" fill="#EA7765"/>
<rect x="21.50" y="301.54" width="40.27" height="10.41" fill="#F8D38F"/>
<rect x="60.77" y="301.54" width="39.27" height="10.41" fill="#F8D38F"/>
<rect x="99.05" y="301.54" width="39.27" height="10.41" fill="#F4B083"/>
<rect x="137.32" y="301.54" width="39.27" height="10.41" fill="#EE8A6F"/>
<rect x="21.50" y="310.95" width="40.27" height="10.41" fill="#E35253"/>
<rect x="60.77" y="310.95" width="39.27" height="10.41" fill="#E35253"/>
<rect x="99.05" y="310.95" width="39.27" height="10.41" fill="#E35253"/>
<rect x="137.32" y="310.95" width="39.27" height="10.41" fill="#F19D7A"/>
<rect x="21.50" y="320.35" width="40.27" height="10.41" fill="#F19D7A"/>
<rect x="60.77" y="320.35" width="39.27" height="10.41" fill="#F19D7A"/>
<rect x="99.05" y="320.35" width="39.27" height="10.41" fill="#F19D7A"/>
<rect x="137.32" y="320.35" width="39.27" height="10.41" fill="#F4B083"/>
<rect x="21.50" y="329.76" width="40.27" height="10.41" fill="#F9E194"/>
<rect x="60.77" y="329.76" width="39.27" height="10.41" fill="#F9E194"/>
<rect x="99.05" y="329.76" width="39.27" height="10.41" fill="#F8D38F"/>
<rect x="137.32" y="329.76" width="39.27" height="10.41" fill="#F6C28A"/>
<rect x="21.50" y="339.17" width="40.27" height="10.41" fill="#F4B083"/>
<rect x="60.77" y="339.17" width="39.27" height="10.41" fill="#F4B083"/>
<rect x="99.05" y="339.17" width="39.27" height="10.41" fill="#F6C28A"/>
<rect x="137.32" y="339.17" width="39.27" height="10.41" fill="#F8D38F"/>
<rect x="21.50" y="348.58" width="40.27" height="10.41" fill="#F6C28A"/>
<rect x="60.77" y="348.58" width="39.27" height="10.41" fill="#F6C28A"/>
<rect x="99.05" y="348.58" width="39.27" height="10.41" fill="#F9E194"/>
<rect x="137.32" y="348.58" width="39.27" height="10.41" fill="#F9E194"/>
<rect x="21.50" y="357.99" width="40.27" height="10.41" fill="#FBEF9B"/>
<rect x="60.77" y="357.99" width="39.27" height="10.41" fill="#FBEF9B"/>
<rect x="99.05" y="357.99" width="39.27" height="10.41" fill="#FBEF9B"/>
<rect x="137.32" y="357.99" width="39.27" height="10.41" fill="#FBEF9B"/>
<path fill="#fff" fill-rule="evenodd" d="M20.50 261.90H177.60V369.40H20.50Z M22.50 263.90H175.60V367.40H22.50Z"/>
<text class="cv" font-size="3.5" x="41.64" y="269.76">9</text>
<text class="cv" font-size="3.5" x="41.64" y="279.17">7</text>
<text class="cv" font-size="3.5" x="41.64" y="288.58">8</text>
<text class="cv" font-size="3.5" x="41.64" y="297.99">11</text>
<text class="cv" font-size="3.5" x="41.64" y="307.40">3</text>
<text class="cv" font-size="3.5" x="41.64" y="316.81">10</text>
<text class="cv" font-size="3.5" x="41.64" y="326.22">6</text>
<text class="cv" font-size="3.5" x="41.64" y="335.63">2</text>
<text class="cv" font-size="3.5" x="41.64" y="345.04">5</text>
<text class="cv" font-size="3.5" x="41.64" y="354.45">4</text>
<text class="cv" font-size="3.5" x="41.64" y="363.86">1</text>
<text class="cv" font-size="3.5" x="79.91" y="269.76">11</text>
<text class="cv" font-size="3.5" x="79.91" y="279.17">9</text>
<text class="cv" font-size="3.5" x="79.91" y="288.58">8</text>
<text class="cv" font-size="3.5" x="79.91" y="297.99">7</text>
<text class="cv" font-size="3.5" x="79.91" y="307.40">3</text>
<text class="cv" font-size="3.5" x="79.91" y="316.81">10</text>
<text class="cv" font-size="3.5" x="79.91" y="326.22">6</text>
<text class="cv" font-size="3.5" x="79.91" y="335.63">2</text>
<text class="cv" font-size="3.5" x="79.91" y="345.04">5</text>
<text class="cv" font-size="3.5" x="79.91" y="354.45">4</text>
<text class="cv" font-size="3.5" x="79.91" y="363.86">1</text>
<text class="cv" font-size="3.5" x="118.19" y="269.76">11</text>
<text class="cv" font-size="3.5" x="118.19" y="279.17">9</text>
<text class="cv" font-size="3.5" x="118.19" y="288.58">8</text>
<text class="cv" font-size="3.5" x="118.19" y="297.99">7</text>
<text class="cv" font-size="3.5" x="118.19" y="307.40">5</text>
<text class="cv" font-size="3.5" x="118.19" y="316.81">10</text>
<text class="cv" font-size="3.5" x="118.19" y="326.22">6</text>
<text class="cv" font-size="3.5" x="118.19" y="335.63">3</text>
<text class="cv" font-size="3.5" x="118.19" y="345.04">4</text>
<text class="cv" font-size="3.5" x="118.19" y="354.45">2</text>
<text class="cv" font-size="3.5" x="118.19" y="363.86">1</text>
<text class="cv" font-size="3.5" x="156.46" y="269.76">11</text>
<text class="cv" font-size="3.5" x="156.46" y="279.17">10</text>
<text class="cv" font-size="3.5" x="156.46" y="288.58">9</text>
<text class="cv" font-size="3.5" x="156.46" y="297.99">8</text>
<text class="cv" font-size="3.5" x="156.46" y="307.40">7</text>
<text class="cv" font-size="3.5" x="156.46" y="316.81">6</text>
<text class="cv" font-size="3.5" x="156.46" y="326.22">5</text>
<text class="cv" font-size="3.5" x="156.46" y="335.63">4</text>
<text class="cv" font-size="3.5" x="156.46" y="345.04">3</text>
<text class="cv" font-size="3.5" x="156.46" y="354.45">2</text>
<text class="cv" font-size="3.5" x="156.46" y="363.86">1</text>
<text class="yt" font-size="3.8" stroke-width="0.15" transform="translate(21.44,270.05) rotate(-44) scale(0.925,1)">East Timor</text>
<rect x="21.70" y="263.70" width="0.8" height="0.4" fill="#888" opacity="0.45"/>
<text class="yt" font-size="3.8" stroke-width="0.15" transform="translate(21.44,279.46) rotate(-44) scale(0.925,1)">Philippines</text>
<rect x="21.70" y="273.11" width="0.8" height="0.4" fill="#888" opacity="0.45"/>
<text class="yt" font-size="3.8" stroke-width="0.15" transform="translate(21.44,288.87) rotate(-44) scale(0.925,1)">Cambodia</text>
<rect x="21.70" y="282.52" width="0.8" height="0.4" fill="#888" opacity="0.45"/>
<text class="yt" font-size="3.8" stroke-width="0.15" transform="translate(21.44,298.28) rotate(-44) scale(0.925,1)">Laos</text>
<rect x="21.70" y="291.93" width="0.8" height="0.4" fill="#888" opacity="0.45"/>
<text class="yt" font-size="3.8" stroke-width="0.15" transform="translate(21.44,307.68) rotate(-44) scale(0.925,1)">Myanmar</text>
<rect x="21.70" y="301.34" width="0.8" height="0.4" fill="#888" opacity="0.45"/>
<text class="yt" font-size="3.8" stroke-width="0.15" transform="translate(21.44,317.09) rotate(-44) scale(0.925,1)">Indonesia</text>
<rect x="21.70" y="310.75" width="0.8" height="0.4" fill="#888" opacity="0.45"/>
<text class="yt" font-size="3.8" stroke-width="0.15" transform="translate(21.44,326.50) rotate(-44) scale(0.925,1)">Vietnam</text>
<rect x="21.70" y="320.15" width="0.8" height="0.4" fill="#888" opacity="0.45"/>
<text class="yt" font-size="3.8" stroke-width="0.15" transform="translate(21.44,335.91) rotate(-44) scale(0.925,1)">Brunei</text>
<rect x="21.70" y="329.56" width="0.8" height="0.4" fill="#888" opacity="0.45"/>
<text class="yt" font-size="3.8" stroke-width="0.15" transform="translate(21.44,345.32) rotate(-44) scale(0.925,1)">Malaysia</text>
<rect x="21.70" y="338.97" width="0.8" height="0.4" fill="#888" opacity="0.45"/>
<text class="yt" font-size="3.8" stroke-width="0.15" transform="translate(21.44,354.73) rotate(-44) scale(0.925,1)">Thailand</text>
<rect x="21.70" y="348.38" width="0.8" height="0.4" fill="#888" opacity="0.45"/>
<text class="yt" font-size="3.8" stroke-width="0.15" transform="translate(21.44,364.14) rotate(-44) scale(0.925,1)">Singapore</text>
<rect x="21.70" y="357.79" width="0.8" height="0.4" fill="#888" opacity="0.45"/>
<text class="xt" font-size="3.85" stroke-width="0.14" x="42.14" y="373.29">1990</text>
<text class="xt" font-size="3.85" stroke-width="0.14" x="80.41" y="373.29">2000</text>
<text class="xt" font-size="3.85" stroke-width="0.14" x="118.69" y="373.29">2010</text>
<text class="xt" font-size="3.85" stroke-width="0.14" x="156.96" y="373.29">2020</text>
<text class="ax" x="99.05" y="377.25">Year</text>
<text class="cy" font-size="4.35" transform="translate(7.50,320.20) rotate(-90)">Country</text>
<text class="cap" x="90.9" y="389.60">(e)</text>
</g>
<g id="panel-f">
<rect x="238.80" y="263.90" width="39.47" height="11.25" fill="#F8D38F"/>
<rect x="277.27" y="263.90" width="38.47" height="11.25" fill="#F9E194"/>
<rect x="314.75" y="263.90" width="38.47" height="11.25" fill="#F9E194"/>
<rect x="352.23" y="263.90" width="38.47" height="11.25" fill="#F8D38F"/>
<rect x="238.80" y="274.15" width="39.47" height="10.25" fill="#F9E194"/>
<rect x="277.27" y="274.15" width="38.47" height="10.25" fill="#F8D38F"/>
<rect x="314.75" y="274.15" width="38.47" height="10.25" fill="#F8D38F"/>
<rect x="352.23" y="274.15" width="38.47" height="10.25" fill="#F6C28A"/>
<rect x="238.80" y="283.39" width="39.47" height="10.25" fill="#EA7765"/>
<rect x="277.27" y="283.39" width="38.47" height="10.25" fill="#EA7765"/>
<rect x="314.75" y="283.39" width="38.47" height="10.25" fill="#EA7765"/>
<rect x="352.23" y="283.39" width="38.47" height="10.25" fill="#EA7765"/>
<rect x="238.80" y="292.64" width="39.47" height="10.25" fill="#F6C28A"/>
<rect x="277.27" y="292.64" width="38.47" height="10.25" fill="#F6C28A"/>
<rect x="314.75" y="292.64" width="38.47" height="10.25" fill="#F6C28A"/>
<rect x="352.23" y="292.64" width="38.47" height="10.25" fill="#F9E194"/>
<rect x="238.80" y="301.88" width="39.47" height="10.25" fill="#F4B083"/>
<rect x="277.27" y="301.88" width="38.47" height="10.25" fill="#F4B083"/>
<rect x="314.75" y="301.88" width="38.47" height="10.25" fill="#F4B083"/>
<rect x="352.23" y="301.88" width="38.47" height="10.25" fill="#F4B083"/>
<rect x="238.80" y="311.13" width="39.47" height="10.25" fill="#F19D7A"/>
<rect x="277.27" y="311.13" width="38.47" height="10.25" fill="#F19D7A"/>
<rect x="314.75" y="311.13" width="38.47" height="10.25" fill="#F19D7A"/>
<rect x="352.23" y="311.13" width="38.47" height="10.25" fill="#F19D7A"/>
<rect x="238.80" y="320.37" width="39.47" height="10.25" fill="#E6645B"/>
<rect x="277.27" y="320.37" width="38.47" height="10.25" fill="#E6645B"/>
<rect x="314.75" y="320.37" width="38.47" height="10.25" fill="#E6645B"/>
<rect x="352.23" y="320.37" width="38.47" height="10.25" fill="#E6645B"/>
<rect x="238.80" y="329.62" width="39.47" height="10.25" fill="#FBEF9B"/>
<rect x="277.27" y="329.62" width="38.47" height="10.25" fill="#FBEF9B"/>
<rect x="314.75" y="329.62" width="38.47" height="10.25" fill="#FBEF9B"/>
<rect x="352.23" y="329.62" width="38.47" height="10.25" fill="#FBEF9B"/>
<rect x="238.80" y="338.86" width="39.47" height="10.25" fill="#E35253"/>
<rect x="277.27" y="338.86" width="38.47" height="10.25" fill="#E35253"/>
<rect x="314.75" y="338.86" width="38.47" height="10.25" fill="#E35253"/>
<rect x="352.23" y="338.86" width="38.47" height="10.25" fill="#E35253"/>
<rect x="238.80" y="348.11" width="39.47" height="10.25" fill="#EE8A6F"/>
<rect x="277.27" y="348.11" width="38.47" height="10.25" fill="#EE8A6F"/>
<rect x="314.75" y="348.11" width="38.47" height="10.25" fill="#EE8A6F"/>
<rect x="352.23" y="348.11" width="38.47" height="10.25" fill="#EE8A6F"/>
<rect x="238.80" y="357.35" width="39.47" height="10.25" fill="#E03F4C"/>
<rect x="277.27" y="357.35" width="38.47" height="10.25" fill="#E03F4C"/>
<rect x="314.75" y="357.35" width="38.47" height="10.25" fill="#E03F4C"/>
<rect x="352.23" y="357.35" width="38.47" height="10.25" fill="#E03F4C"/>
<path fill="#fff" fill-rule="evenodd" d="M237.80 262.90H391.70V368.60H237.80Z M239.80 264.90H389.70V366.60H239.80Z"/>
<text class="cv" font-size="3.3" x="258.54" y="270.61">3</text>
<text class="cv" font-size="3.3" x="258.54" y="279.86">2</text>
<text class="cv" font-size="3.3" x="258.54" y="289.10">8</text>
<text class="cv" font-size="3.3" x="258.54" y="298.35">4</text>
<text class="cv" font-size="3.3" x="258.54" y="307.59">5</text>
<text class="cv" font-size="3.3" x="258.54" y="316.84">6</text>
<text class="cv" font-size="3.3" x="258.54" y="326.08">9</text>
<text class="cv" font-size="3.3" x="258.54" y="335.33">1</text>
<text class="cv" font-size="3.3" x="258.54" y="344.57">10</text>
<text class="cv" font-size="3.3" x="258.54" y="353.82">7</text>
<text class="cv" font-size="3.3" x="258.54" y="363.07">11</text>
<text class="cv" font-size="3.3" x="296.01" y="270.61">2</text>
<text class="cv" font-size="3.3" x="296.01" y="279.86">3</text>
<text class="cv" font-size="3.3" x="296.01" y="289.10">8</text>
<text class="cv" font-size="3.3" x="296.01" y="298.35">4</text>
<text class="cv" font-size="3.3" x="296.01" y="307.59">5</text>
<text class="cv" font-size="3.3" x="296.01" y="316.84">6</text>
<text class="cv" font-size="3.3" x="296.01" y="326.08">9</text>
<text class="cv" font-size="3.3" x="296.01" y="335.33">1</text>
<text class="cv" font-size="3.3" x="296.01" y="344.57">10</text>
<text class="cv" font-size="3.3" x="296.01" y="353.82">7</text>
<text class="cv" font-size="3.3" x="296.01" y="363.07">11</text>
<text class="cv" font-size="3.3" x="333.49" y="270.61">2</text>
<text class="cv" font-size="3.3" x="333.49" y="279.86">3</text>
<text class="cv" font-size="3.3" x="333.49" y="289.10">8</text>
<text class="cv" font-size="3.3" x="333.49" y="298.35">4</text>
<text class="cv" font-size="3.3" x="333.49" y="307.59">5</text>
<text class="cv" font-size="3.3" x="333.49" y="316.84">6</text>
<text class="cv" font-size="3.3" x="333.49" y="326.08">9</text>
<text class="cv" font-size="3.3" x="333.49" y="335.33">1</text>
<text class="cv" font-size="3.3" x="333.49" y="344.57">10</text>
<text class="cv" font-size="3.3" x="333.49" y="353.82">7</text>
<text class="cv" font-size="3.3" x="333.49" y="363.07">11</text>
<text class="cv" font-size="3.3" x="370.96" y="270.61">3</text>
<text class="cv" font-size="3.3" x="370.96" y="279.86">4</text>
<text class="cv" font-size="3.3" x="370.96" y="289.10">8</text>
<text class="cv" font-size="3.3" x="370.96" y="298.35">2</text>
<text class="cv" font-size="3.3" x="370.96" y="307.59">5</text>
<text class="cv" font-size="3.3" x="370.96" y="316.84">6</text>
<text class="cv" font-size="3.3" x="370.96" y="326.08">9</text>
<text class="cv" font-size="3.3" x="370.96" y="335.33">1</text>
<text class="cv" font-size="3.3" x="370.96" y="344.57">10</text>
<text class="cv" font-size="3.3" x="370.96" y="353.82">7</text>
<text class="cv" font-size="3.3" x="370.96" y="363.07">11</text>
<text class="yt" font-size="3.65" stroke-width="0.15" transform="translate(238.69,270.91) rotate(-44) scale(0.925,1)">Vietnam</text>
<rect x="239.00" y="264.70" width="0.8" height="0.4" fill="#888" opacity="0.45"/>
<text class="yt" font-size="3.65" stroke-width="0.15" transform="translate(238.69,280.16) rotate(-44) scale(0.925,1)">Thailand</text>
<rect x="239.00" y="273.95" width="0.8" height="0.4" fill="#888" opacity="0.45"/>
<text class="yt" font-size="3.65" stroke-width="0.15" transform="translate(238.69,289.40) rotate(-44) scale(0.925,1)">Singapore</text>
<rect x="239.00" y="283.19" width="0.8" height="0.4" fill="#888" opacity="0.45"/>
<text class="yt" font-size="3.65" stroke-width="0.15" transform="translate(238.69,298.65) rotate(-44) scale(0.925,1)">Philippines</text>
<rect x="239.00" y="292.44" width="0.8" height="0.4" fill="#888" opacity="0.45"/>
<text class="yt" font-size="3.65" stroke-width="0.15" transform="translate(238.69,307.90) rotate(-44) scale(0.925,1)">Myanmar</text>
<rect x="239.00" y="301.68" width="0.8" height="0.4" fill="#888" opacity="0.45"/>
<text class="yt" font-size="3.65" stroke-width="0.15" transform="translate(238.69,317.14) rotate(-44) scale(0.925,1)">Malaysia</text>
<rect x="239.00" y="310.93" width="0.8" height="0.4" fill="#888" opacity="0.45"/>
<text class="yt" font-size="3.65" stroke-width="0.15" transform="translate(238.69,326.39) rotate(-44) scale(0.925,1)">Laos</text>
<rect x="239.00" y="320.17" width="0.8" height="0.4" fill="#888" opacity="0.45"/>
<text class="yt" font-size="3.65" stroke-width="0.15" transform="translate(238.69,335.63) rotate(-44) scale(0.925,1)">Indonesia</text>
<rect x="239.00" y="329.42" width="0.8" height="0.4" fill="#888" opacity="0.45"/>
<text class="yt" font-size="3.65" stroke-width="0.15" transform="translate(238.69,344.88) rotate(-44) scale(0.925,1)">East Timor</text>
<rect x="239.00" y="338.66" width="0.8" height="0.4" fill="#888" opacity="0.45"/>
<text class="yt" font-size="3.65" stroke-width="0.15" transform="translate(238.69,354.12) rotate(-44) scale(0.925,1)">Cambodia</text>
<rect x="239.00" y="347.91" width="0.8" height="0.4" fill="#888" opacity="0.45"/>
<text class="yt" font-size="3.65" stroke-width="0.15" transform="translate(238.69,363.37) rotate(-44) scale(0.925,1)">Brunei</text>
<rect x="239.00" y="357.15" width="0.8" height="0.4" fill="#888" opacity="0.45"/>
<text class="xt" font-size="3.85" stroke-width="0.14" x="258.24" y="372.49">1990</text>
<text class="xt" font-size="3.85" stroke-width="0.14" x="295.71" y="372.49">2000</text>
<text class="xt" font-size="3.85" stroke-width="0.14" x="333.19" y="372.49">2010</text>
<text class="xt" font-size="3.85" stroke-width="0.14" x="370.66" y="372.49">2020</text>
<text class="ax" x="314.35" y="375.95">Year</text>
<text class="cy" font-size="4.25" transform="translate(225.00,320.40) rotate(-90)">Country</text>
<text class="cap" x="306.7" y="389.60">(f)</text>
</g>
<g id="panel-g">
<rect x="21.30" y="395.40" width="40.27" height="11.40" fill="#E03F4C"/>
<rect x="60.58" y="395.40" width="39.27" height="11.40" fill="#E03F4C"/>
<rect x="98.85" y="395.40" width="39.27" height="11.40" fill="#E03F4C"/>
<rect x="137.12" y="395.40" width="39.27" height="11.40" fill="#E03F4C"/>
<rect x="21.30" y="405.80" width="40.27" height="10.40" fill="#EE8A6F"/>
<rect x="60.58" y="405.80" width="39.27" height="10.40" fill="#F19D7A"/>
<rect x="98.85" y="405.80" width="39.27" height="10.40" fill="#E6645B"/>
<rect x="137.12" y="405.80" width="39.27" height="10.40" fill="#E35253"/>
<rect x="21.30" y="415.20" width="40.27" height="10.40" fill="#E35253"/>
<rect x="60.58" y="415.20" width="39.27" height="10.40" fill="#E35253"/>
<rect x="98.85" y="415.20" width="39.27" height="10.40" fill="#E35253"/>
<rect x="137.12" y="415.20" width="39.27" height="10.40" fill="#E6645B"/>
<rect x="21.30" y="424.60" width="40.27" height="10.40" fill="#E6645B"/>
<rect x="60.58" y="424.60" width="39.27" height="10.40" fill="#E6645B"/>
<rect x="98.85" y="424.60" width="39.27" height="10.40" fill="#EE8A6F"/>
<rect x="137.12" y="424.60" width="39.27" height="10.40" fill="#EA7765"/>
<rect x="21.30" y="434.00" width="40.27" height="10.40" fill="#F4B083"/>
<rect x="60.58" y="434.00" width="39.27" height="10.40" fill="#EA7765"/>
<rect x="98.85" y="434.00" width="39.27" height="10.40" fill="#EA7765"/>
<rect x="137.12" y="434.00" width="39.27" height="10.40" fill="#EE8A6F"/>
<rect x="21.30" y="443.40" width="40.27" height="10.40" fill="#EA7765"/>
<rect x="60.58" y="443.40" width="39.27" height="10.40" fill="#EE8A6F"/>
<rect x="98.85" y="443.40" width="39.27" height="10.40" fill="#F19D7A"/>
<rect x="137.12" y="443.40" width="39.27" height="10.40" fill="#F19D7A"/>
<rect x="21.30" y="452.80" width="40.27" height="10.40" fill="#F19D7A"/>
<rect x="60.58" y="452.80" width="39.27" height="10.40" fill="#F6C28A"/>
<rect x="98.85" y="452.80" width="39.27" height="10.40" fill="#F4B083"/>
<rect x="137.12" y="452.80" width="39.27" height="10.40" fill="#F4B083"/>
<rect x="21.30" y="462.20" width="40.27" height="10.40" fill="#F9E194"/>
<rect x="60.58" y="462.20" width="39.27" height="10.40" fill="#F9E194"/>
<rect x="98.85" y="462.20" width="39.27" height="10.40" fill="#F8D38F"/>
<rect x="137.12" y="462.20" width="39.27" height="10.40" fill="#F6C28A"/>
<rect x="21.30" y="471.60" width="40.27" height="10.40" fill="#F6C28A"/>
<rect x="60.58" y="471.60" width="39.27" height="10.40" fill="#F4B083"/>
<rect x="98.85" y="471.60" width="39.27" height="10.40" fill="#F6C28A"/>
<rect x="137.12" y="471.60" width="39.27" height="10.40" fill="#F8D38F"/>
<rect x="21.30" y="481.00" width="40.27" height="10.40" fill="#F8D38F"/>
<rect x="60.58" y="481.00" width="39.27" height="10.40" fill="#F8D38F"/>
<rect x="98.85" y="481.00" width="39.27" height="10.40" fill="#F9E194"/>
<rect x="137.12" y="481.00" width="39.27" height="10.40" fill="#F9E194"/>
<rect x="21.30" y="490.40" width="40.27" height="10.40" fill="#FBEF9B"/>
<rect x="60.58" y="490.40" width="39.27" height="10.40" fill="#FBEF9B"/>
<rect x="98.85" y="490.40" width="39.27" height="10.40" fill="#FBEF9B"/>
<rect x="137.12" y="490.40" width="39.27" height="10.40" fill="#FBEF9B"/>
<path fill="#fff" fill-rule="evenodd" d="M20.30 394.40H177.40V501.80H20.30Z M22.30 396.40H175.40V499.80H22.30Z"/>
<text class="cv" font-size="3.4" x="41.44" y="402.22">11</text>
<text class="cv" font-size="3.4" x="41.44" y="411.62">7</text>
<text class="cv" font-size="3.4" x="41.44" y="421.02">10</text>
<text class="cv" font-size="3.4" x="41.44" y="430.42">9</text>
<text class="cv" font-size="3.4" x="41.44" y="439.82">5</text>
<text class="cv" font-size="3.4" x="41.44" y="449.22">8</text>
<text class="cv" font-size="3.4" x="41.44" y="458.62">6</text>
<text class="cv" font-size="3.4" x="41.44" y="468.02">2</text>
<text class="cv" font-size="3.4" x="41.44" y="477.42">4</text>
<text class="cv" font-size="3.4" x="41.44" y="486.82">3</text>
<text class="cv" font-size="3.4" x="41.44" y="496.22">1</text>
<text class="cv" font-size="3.4" x="79.71" y="402.22">11</text>
<text class="cv" font-size="3.4" x="79.71" y="411.62">6</text>
<text class="cv" font-size="3.4" x="79.71" y="421.02">10</text>
<text class="cv" font-size="3.4" x="79.71" y="430.42">9</text>
<text class="cv" font-size="3.4" x="79.71" y="439.82">8</text>
<text class="cv" font-size="3.4" x="79.71" y="449.22">7</text>
<text class="cv" font-size="3.4" x="79.71" y="458.62">4</text>
<text class="cv" font-size="3.4" x="79.71" y="468.02">2</text>
<text class="cv" font-size="3.4" x="79.71" y="477.42">5</text>
<text class="cv" font-size="3.4" x="79.71" y="486.82">3</text>
<text class="cv" font-size="3.4" x="79.71" y="496.22">1</text>
<text class="cv" font-size="3.4" x="117.99" y="402.22">11</text>
<text class="cv" font-size="3.4" x="117.99" y="411.62">9</text>
<text class="cv" font-size="3.4" x="117.99" y="421.02">10</text>
<text class="cv" font-size="3.4" x="117.99" y="430.42">7</text>
<text class="cv" font-size="3.4" x="117.99" y="439.82">8</text>
<text class="cv" font-size="3.4" x="117.99" y="449.22">6</text>
<text class="cv" font-size="3.4" x="117.99" y="458.62">5</text>
<text class="cv" font-size="3.4" x="117.99" y="468.02">3</text>
<text class="cv" font-size="3.4" x="117.99" y="477.42">4</text>
<text class="cv" font-size="3.4" x="117.99" y="486.82">2</text>
<text class="cv" font-size="3.4" x="117.99" y="496.22">1</text>
<text class="cv" font-size="3.4" x="156.26" y="402.22">11</text>
<text class="cv" font-size="3.4" x="156.26" y="411.62">10</text>
<text class="cv" font-size="3.4" x="156.26" y="421.02">9</text>
<text class="cv" font-size="3.4" x="156.26" y="430.42">8</text>
<text class="cv" font-size="3.4" x="156.26" y="439.82">7</text>
<text class="cv" font-size="3.4" x="156.26" y="449.22">6</text>
<text class="cv" font-size="3.4" x="156.26" y="458.62">5</text>
<text class="cv" font-size="3.4" x="156.26" y="468.02">4</text>
<text class="cv" font-size="3.4" x="156.26" y="477.42">3</text>
<text class="cv" font-size="3.4" x="156.26" y="486.82">2</text>
<text class="cv" font-size="3.4" x="156.26" y="496.22">1</text>
<text class="yt" font-size="3.78" stroke-width="0.15" transform="translate(21.24,402.54) rotate(-44) scale(0.925,1)">East Timor</text>
<rect x="21.50" y="396.20" width="0.8" height="0.4" fill="#888" opacity="0.45"/>
<text class="yt" font-size="3.78" stroke-width="0.15" transform="translate(21.24,411.94) rotate(-44) scale(0.925,1)">Philippines</text>
<rect x="21.50" y="405.60" width="0.8" height="0.4" fill="#888" opacity="0.45"/>
<text class="yt" font-size="3.78" stroke-width="0.15" transform="translate(21.24,421.34) rotate(-44) scale(0.925,1)">Vietnam</text>
<rect x="21.50" y="415.00" width="0.8" height="0.4" fill="#888" opacity="0.45"/>
<text class="yt" font-size="3.78" stroke-width="0.15" transform="translate(21.24,430.74) rotate(-44) scale(0.925,1)">Myanmar</text>
<rect x="21.50" y="424.40" width="0.8" height="0.4" fill="#888" opacity="0.45"/>
<text class="yt" font-size="3.78" stroke-width="0.15" transform="translate(21.24,440.14) rotate(-44) scale(0.925,1)">Singapore</text>
<rect x="21.50" y="433.80" width="0.8" height="0.4" fill="#888" opacity="0.45"/>
<text class="yt" font-size="3.78" stroke-width="0.15" transform="translate(21.24,449.54) rotate(-44) scale(0.925,1)">Laos</text>
<rect x="21.50" y="443.20" width="0.8" height="0.4" fill="#888" opacity="0.45"/>
<text class="yt" font-size="3.78" stroke-width="0.15" transform="translate(21.24,458.94) rotate(-44) scale(0.925,1)">Thailand</text>
<rect x="21.50" y="452.60" width="0.8" height="0.4" fill="#888" opacity="0.45"/>
<text class="yt" font-size="3.78" stroke-width="0.15" transform="translate(21.24,468.34) rotate(-44) scale(0.925,1)">Malaysia</text>
<rect x="21.50" y="462.00" width="0.8" height="0.4" fill="#888" opacity="0.45"/>
<text class="yt" font-size="3.78" stroke-width="0.15" transform="translate(21.24,477.74) rotate(-44) scale(0.925,1)">Cambodia</text>
<rect x="21.50" y="471.40" width="0.8" height="0.4" fill="#888" opacity="0.45"/>
<text class="yt" font-size="3.78" stroke-width="0.15" transform="translate(21.24,487.14) rotate(-44) scale(0.925,1)">Indonesia</text>
<rect x="21.50" y="480.80" width="0.8" height="0.4" fill="#888" opacity="0.45"/>
<text class="yt" font-size="3.78" stroke-width="0.15" transform="translate(21.24,496.54) rotate(-44) scale(0.925,1)">Brunei</text>
<rect x="21.50" y="490.20" width="0.8" height="0.4" fill="#888" opacity="0.45"/>
<text class="xt" font-size="3.85" stroke-width="0.14" x="40.84" y="506.19">1990</text>
<text class="xt" font-size="3.85" stroke-width="0.14" x="79.11" y="506.19">2000</text>
<text class="xt" font-size="3.85" stroke-width="0.14" x="117.39" y="506.19">2010</text>
<text class="xt" font-size="3.85" stroke-width="0.14" x="155.66" y="506.19">2020</text>
<text class="ax" x="98.05" y="509.45">Year</text>
<text class="cy" font-size="4.4" transform="translate(7.10,452.80) rotate(-90)">Country</text>
<text class="cap" x="90.6" y="522.20">(g)</text>
</g>
<g id="panel-h">
<rect x="238.90" y="395.55" width="39.52" height="11.24" fill="#E03F4C"/>
<rect x="277.43" y="395.55" width="38.52" height="11.24" fill="#E03F4C"/>
<rect x="314.95" y="395.55" width="38.52" height="11.24" fill="#E03F4C"/>
<rect x="352.48" y="395.55" width="38.52" height="11.24" fill="#E03F4C"/>
<rect x="238.90" y="405.79" width="39.52" height="10.24" fill="#E35253"/>
<rect x="277.43" y="405.79" width="38.52" height="10.24" fill="#E35253"/>
<rect x="314.95" y="405.79" width="38.52" height="10.24" fill="#E35253"/>
<rect x="352.48" y="405.79" width="38.52" height="10.24" fill="#E35253"/>
<rect x="238.90" y="415.02" width="39.52" height="10.24" fill="#E6645B"/>
<rect x="277.43" y="415.02" width="38.52" height="10.24" fill="#E6645B"/>
<rect x="314.95" y="415.02" width="38.52" height="10.24" fill="#E6645B"/>
<rect x="352.48" y="415.02" width="38.52" height="10.24" fill="#E6645B"/>
<rect x="238.90" y="424.26" width="39.52" height="10.24" fill="#EA7765"/>
<rect x="277.43" y="424.26" width="38.52" height="10.24" fill="#EA7765"/>
<rect x="314.95" y="424.26" width="38.52" height="10.24" fill="#EA7765"/>
<rect x="352.48" y="424.26" width="38.52" height="10.24" fill="#EA7765"/>
<rect x="238.90" y="433.50" width="39.52" height="10.24" fill="#EE8A6F"/>
<rect x="277.43" y="433.50" width="38.52" height="10.24" fill="#EE8A6F"/>
<rect x="314.95" y="433.50" width="38.52" height="10.24" fill="#EE8A6F"/>
<rect x="352.48" y="433.50" width="38.52" height="10.24" fill="#EE8A6F"/>
<rect x="238.90" y="442.73" width="39.52" height="10.24" fill="#F19D7A"/>
<rect x="277.43" y="442.73" width="38.52" height="10.24" fill="#F19D7A"/>
<rect x="314.95" y="442.73" width="38.52" height="10.24" fill="#F19D7A"/>
<rect x="352.48" y="442.73" width="38.52" height="10.24" fill="#F19D7A"/>
<rect x="238.90" y="451.97" width="39.52" height="10.24" fill="#F4B083"/>
<rect x="277.43" y="451.97" width="38.52" height="10.24" fill="#F4B083"/>
<rect x="314.95" y="451.97" width="38.52" height="10.24" fill="#F4B083"/>
<rect x="352.48" y="451.97" width="38.52" height="10.24" fill="#F4B083"/>
<rect x="238.90" y="461.20" width="39.52" height="10.24" fill="#F9E194"/>
<rect x="277.43" y="461.20" width="38.52" height="10.24" fill="#F8D38F"/>
<rect x="314.95" y="461.20" width="38.52" height="10.24" fill="#F8D38F"/>
<rect x="352.48" y="461.20" width="38.52" height="10.24" fill="#F6C28A"/>
<rect x="238.90" y="470.44" width="39.52" height="10.24" fill="#F6C28A"/>
<rect x="277.43" y="470.44" width="38.52" height="10.24" fill="#F6C28A"/>
<rect x="314.95" y="470.44" width="38.52" height="10.24" fill="#F6C28A"/>
<rect x="352.48" y="470.44" width="38.52" height="10.24" fill="#F8D38F"/>
<rect x="238.90" y="479.68" width="39.52" height="10.24" fill="#F8D38F"/>
<rect x="277.43" y="479.68" width="38.52" height="10.24" fill="#F9E194"/>
<rect x="314.95" y="479.68" width="38.52" height="10.24" fill="#F9E194"/>
<rect x="352.48" y="479.68" width="38.52" height="10.24" fill="#F9E194"/>
<rect x="238.90" y="488.91" width="39.52" height="10.24" fill="#FBEF9B"/>
<rect x="277.43" y="488.91" width="38.52" height="10.24" fill="#FBEF9B"/>
<rect x="314.95" y="488.91" width="38.52" height="10.24" fill="#FBEF9B"/>
<rect x="352.48" y="488.91" width="38.52" height="10.24" fill="#FBEF9B"/>
<path fill="#fff" fill-rule="evenodd" d="M237.90 394.55H392.00V500.15H237.90Z M239.90 396.55H390.00V498.15H239.90Z"/>
<text class="cv" font-size="3.3" x="258.66" y="402.26">11</text>
<text class="cv" font-size="3.3" x="258.66" y="411.49">10</text>
<text class="cv" font-size="3.3" x="258.66" y="420.73">9</text>
<text class="cv" font-size="3.3" x="258.66" y="429.97">8</text>
<text class="cv" font-size="3.3" x="258.66" y="439.20">7</text>
<text class="cv" font-size="3.3" x="258.66" y="448.44">6</text>
<text class="cv" font-size="3.3" x="258.66" y="457.67">5</text>
<text class="cv" font-size="3.3" x="258.66" y="466.91">2</text>
<text class="cv" font-size="3.3" x="258.66" y="476.15">4</text>
<text class="cv" font-size="3.3" x="258.66" y="485.38">3</text>
<text class="cv" font-size="3.3" x="258.66" y="494.62">1</text>
<text class="cv" font-size="3.3" x="296.19" y="402.26">11</text>
<text class="cv" font-size="3.3" x="296.19" y="411.49">10</text>
<text class="cv" font-size="3.3" x="296.19" y="420.73">9</text>
<text class="cv" font-size="3.3" x="296.19" y="429.97">8</text>
<text class="cv" font-size="3.3" x="296.19" y="439.20">7</text>
<text class="cv" font-size="3.3" x="296.19" y="448.44">6</text>
<text class="cv" font-size="3.3" x="296.19" y="457.67">5</text>
<text class="cv" font-size="3.3" x="296.19" y="466.91">3</text>
<text class="cv" font-size="3.3" x="296.19" y="476.15">4</text>
<text class="cv" font-size="3.3" x="296.19" y="485.38">2</text>
<text class="cv" font-size="3.3" x="296.19" y="494.62">1</text>
<text class="cv" font-size="3.3" x="333.71" y="402.26">11</text>
<text class="cv" font-size="3.3" x="333.71" y="411.49">10</text>
<text class="cv" font-size="3.3" x="333.71" y="420.73">9</text>
<text class="cv" font-size="3.3" x="333.71" y="429.97">8</text>
<text class="cv" font-size="3.3" x="333.71" y="439.20">7</text>
<text class="cv" font-size="3.3" x="333.71" y="448.44">6</text>
<text class="cv" font-size="3.3" x="333.71" y="457.67">5</text>
<text class="cv" font-size="3.3" x="333.71" y="466.91">3</text>
<text class="cv" font-size="3.3" x="333.71" y="476.15">4</text>
<text class="cv" font-size="3.3" x="333.71" y="485.38">2</text>
<text class="cv" font-size="3.3" x="333.71" y="494.62">1</text>
<text class="cv" font-size="3.3" x="371.24" y="402.26">11</text>
<text class="cv" font-size="3.3" x="371.24" y="411.49">10</text>
<text class="cv" font-size="3.3" x="371.24" y="420.73">9</text>
<text class="cv" font-size="3.3" x="371.24" y="429.97">8</text>
<text class="cv" font-size="3.3" x="371.24" y="439.20">7</text>
<text class="cv" font-size="3.3" x="371.24" y="448.44">6</text>
<text class="cv" font-size="3.3" x="371.24" y="457.67">5</text>
<text class="cv" font-size="3.3" x="371.24" y="466.91">4</text>
<text class="cv" font-size="3.3" x="371.24" y="476.15">3</text>
<text class="cv" font-size="3.3" x="371.24" y="485.38">2</text>
<text class="cv" font-size="3.3" x="371.24" y="494.62">1</text>
<text class="yt" font-size="3.57" stroke-width="0.15" transform="translate(238.76,402.53) rotate(-44) scale(0.925,1)">Brunei</text>
<rect x="239.10" y="396.35" width="0.8" height="0.4" fill="#888" opacity="0.45"/>
<text class="yt" font-size="3.57" stroke-width="0.15" transform="translate(238.76,411.77) rotate(-44) scale(0.925,1)">East Timor</text>
<rect x="239.10" y="405.59" width="0.8" height="0.4" fill="#888" opacity="0.45"/>
<text class="yt" font-size="3.57" stroke-width="0.15" transform="translate(238.76,421.00) rotate(-44) scale(0.925,1)">Singapore</text>
<rect x="239.10" y="414.82" width="0.8" height="0.4" fill="#888" opacity="0.45"/>
<text class="yt" font-size="3.57" stroke-width="0.15" transform="translate(238.76,430.24) rotate(-44) scale(0.925,1)">Laos</text>
<rect x="239.10" y="424.06" width="0.8" height="0.4" fill="#888" opacity="0.45"/>
<text class="yt" font-size="3.57" stroke-width="0.15" transform="translate(238.76,439.48) rotate(-44) scale(0.925,1)">Cambodia</text>
<rect x="239.10" y="433.30" width="0.8" height="0.4" fill="#888" opacity="0.45"/>
<text class="yt" font-size="3.57" stroke-width="0.15" transform="translate(238.76,448.71) rotate(-44) scale(0.925,1)">Malaysia</text>
<rect x="239.10" y="442.53" width="0.8" height="0.4" fill="#888" opacity="0.45"/>
<text class="yt" font-size="3.57" stroke-width="0.15" transform="translate(238.76,457.95) rotate(-44) scale(0.925,1)">Myanmar</text>
<rect x="239.10" y="451.77" width="0.8" height="0.4" fill="#888" opacity="0.45"/>
<text class="yt" font-size="3.57" stroke-width="0.15" transform="translate(238.76,467.18) rotate(-44) scale(0.925,1)">Thailand</text>
<rect x="239.10" y="461.00" width="0.8" height="0.4" fill="#888" opacity="0.45"/>
<text class="yt" font-size="3.57" stroke-width="0.15" transform="translate(238.76,476.42) rotate(-44) scale(0.925,1)">Vietnam</text>
<rect x="239.10" y="470.24" width="0.8" height="0.4" fill="#888" opacity="0.45"/>
<text class="yt" font-size="3.57" stroke-width="0.15" transform="translate(238.76,485.66) rotate(-44) scale(0.925,1)">Philippines</text>
<rect x="239.10" y="479.48" width="0.8" height="0.4" fill="#888" opacity="0.45"/>
<text class="yt" font-size="3.57" stroke-width="0.15" transform="translate(238.76,494.89) rotate(-44) scale(0.925,1)">Indonesia</text>
<rect x="239.10" y="488.71" width="0.8" height="0.4" fill="#888" opacity="0.45"/>
<text class="xt" font-size="3.85" stroke-width="0.08" x="257.86" y="504.04">1990</text>
<text class="xt" font-size="3.85" stroke-width="0.08" x="295.39" y="504.04">2000</text>
<text class="xt" font-size="3.85" stroke-width="0.08" x="332.91" y="504.04">2010</text>
<text class="xt" font-size="3.85" stroke-width="0.08" x="370.44" y="504.04">2020</text>
<text class="ax" x="313.95" y="507.20">Year</text>
<text class="cy" font-size="4.25" transform="translate(225.10,452.00) rotate(-90)">Country</text>
<text class="cap" x="306.7" y="521.60">(h)</text>
</g>
<g id="colorbar">
<path d="M96 546.7 V532.4 Q96 529.2 99.2 529.2 H100.9 Q104.1 529.2 104.1 532.4 V546.7 Z" fill="#FAE99A"/>
<rect x="105" y="531" width="181.9" height="15.7" fill="url(#rk)"/>
<path d="M288.5 546.7 V532.6 Q288.5 529.3 291.8 529.3 H293.1 Q296.4 529.3 296.4 532.6 V546.7 Z" fill="#E03A48"/>
<text class="cb cbn" transform="translate(107.2,542.6) scale(0.9,1)">1</text>
<text class="cb" x="180.2" y="542.3" stroke="#2e2a2a" stroke-width="0.12">Ranking</text>
<text class="cb cbn" transform="translate(286.3,542.6) scale(0.9,1)" text-anchor="end">11</text>
</g>
</svg></body></html>
